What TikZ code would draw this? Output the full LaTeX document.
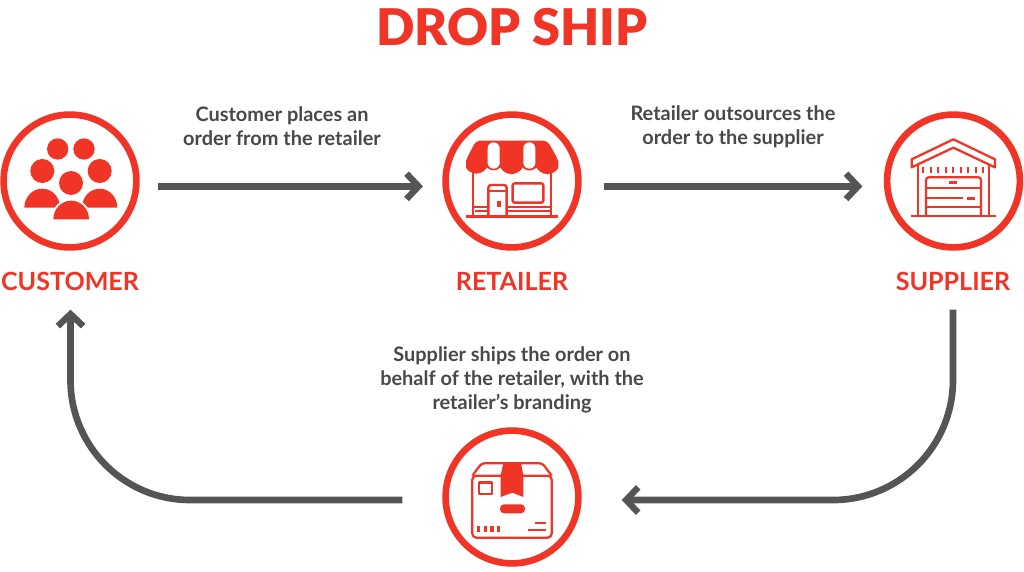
\documentclass[tikz,border=0pt]{standalone}
\usepackage{fontspec}
\setmainfont{Lato}
\newfontfamily\heavyfont{Lato Black}
\usetikzlibrary{arrows.meta}
\definecolor{dsred}{HTML}{F03526}
\definecolor{dsgray}{HTML}{555555}
\tikzset{
  ring/.style={circle,draw=dsred,line width=5pt,minimum size=99.6pt,inner sep=0pt,fill=white},
  title/.style={text=dsred,font=\heavyfont\fontsize{37.9}{44}\selectfont,inner sep=0pt},
  label/.style={text=dsred,font=\bfseries\fontsize{18.8}{22}\selectfont,inner sep=0pt},
  note/.style={text=dsgray!85!black,font=\bfseries\fontsize{14.95}{18}\selectfont,align=center,inner sep=0pt},
  flow/.style={draw=dsgray,line width=5pt,-{Straight Barb[length=9pt,width=19pt,line width=4.8pt]}},
  ic/.style={draw=dsred,line width=1.5pt,line join=round},
  icon/.style={x=.25pt,y=-.25pt}
}
\begin{document}
\begin{tikzpicture}[x=.75pt,y=-.75pt]
\useasboundingbox (0,0) rectangle (1024,571);
\node[title] (head) at (512,27) {DROP SHIP};
\node[ring] (customer) at (70,181) {};
\node[ring] (retailer) at (512,181) {};
\node[ring] (supplier) at (953.5,181) {};
\node[ring] (parcel) at (512,497) {};
\node[label] (lcustomer) at (70,281.5) {CUSTOMER};
\node[label] (lretailer) at (512,281.5) {RETAILER};
\node[label] (lsupplier) at (953,281.5) {SUPPLIER};
\node[note] (n1) at (282,126.5) {Customer places an\\order from the retailer};
\node[note] (n2) at (733,126.5) {Retailer outsources the\\order to the supplier};
\node[note] (n3) at (512,379.5) {Supplier ships the order on\\behalf of the retailer, with the\\retailer’s branding};
% connectors
\draw[flow,shorten <=13.5pt,shorten >=14.5pt] ([yshift=-4pt]customer.east) -- ([yshift=-4pt]retailer.west);
\draw[flow,shorten <=16.5pt,shorten >=16pt] ([yshift=-4pt]retailer.east) -- ([yshift=-4pt]supplier.west);
\draw[flow,shorten >=30pt] ([yshift=-14pt]lsupplier.south) -- (953,380) arc[start angle=0,end angle=90,x radius=120,y radius=120] -- ([yshift=-2.25pt]parcel.east);
\draw[flow,shorten <=30pt] ([yshift=-2.25pt]parcel.west) -- (190,500) arc[start angle=90,end angle=180,x radius=119.5,y radius=120] -- ([xshift=.4pt,yshift=-14pt]lcustomer.south);
% customer icon
\begin{scope}[shift={(0,100)},icon]
\foreach \x/\y/\r in {173/147/32,252/147/32,127/213/36,299/213/36,213/249/36}
  \fill[dsred] (\x,\y) circle[radius=\r];
\fill[dsred] (73,323) arc[start angle=180,end angle=360,x radius=53.5,y radius=57] -- cycle;
\fill[dsred] (246,323) arc[start angle=180,end angle=360,x radius=53,y radius=57] -- cycle;
\fill[dsred,draw=white,line width=3pt] (160,358) arc[start angle=180,end angle=360,x radius=53.5,y radius=56] -- cycle;
\fill[dsred] (160,358) arc[start angle=180,end angle=360,x radius=53.5,y radius=56] -- cycle;
\end{scope}
% retailer icon
\begin{scope}[shift={(435,100)},icon]
\draw[ic] (115,215) -- (115,345);
\draw[ic] (347,215) -- (347,345);
\draw[ic] (115,322) -- (160,322) (215,322) -- (347,322);
\draw[ic] (120,334) -- (160,334) (215,334) -- (347,334);
\draw[ic,line width=2.4pt] (92,350) -- (370,350);
\draw[ic,line width=1.8pt,rounded corners=2pt] (160,345) -- (160,255) -- (215,255) -- (215,345);
\draw[ic] (160,272) -- (215,272);
\fill[dsred] (187,302) rectangle (199,322);
\draw[ic,line width=1.8pt,rounded corners=1.5pt] (233,250) rectangle (325,308);
% awning: bottom edge runs right to left through five scallops
\fill[dsred,rounded corners=3pt] (93,190) -- (93,180) -- (123,122) -- (337,122) -- (370,180) -- (370,190)
  arc[start angle=0,end angle=180,radius=32.5] arc[start angle=0,end angle=180,radius=21.5]
  arc[start angle=0,end angle=180,radius=32.5] arc[start angle=0,end angle=180,radius=21]
  arc[start angle=0,end angle=180,radius=31] -- cycle;
\fill[white] (158,190) -- (158,145) arc[start angle=180,end angle=360,radius=18] -- (194,190) -- cycle;
\fill[white] (265,190) -- (265,145) arc[start angle=180,end angle=360,radius=18] -- (301,190) -- cycle;
\fill[white] (158,188) arc[start angle=180,end angle=0,radius=18] -- cycle;
\fill[white] (265,188) arc[start angle=180,end angle=0,radius=18] -- cycle;
\end{scope}
% supplier icon
\begin{scope}[shift={(875,100)},icon]
\draw[ic,line width=1.7pt] (235,118) -- (360,178) -- (360,202) -- (235,143) -- (110,202) -- (110,178) -- cycle;
\draw[ic,line width=1.7pt] (128,196) -- (128,345) (342,196) -- (342,345);
\draw[ic,line width=1.7pt] (108,347) -- (362,347);
\draw[ic,line width=1.7pt,rounded corners=2pt] (153,345) -- (153,232) -- (318,232) -- (318,345);
\draw[ic] (157,265) -- (315,265) (157,322) -- (315,322) (157,295) -- (265,295);
\draw[ic,line width=1.9pt] (277,295) -- (300,295) (222,248) -- (245,248);
\foreach \x in {145,167,189,212,235,257,279,302,325}
  \draw[ic,line width=1.7pt] (\x,202) -- (\x,218);
\end{scope}
% parcel icon
\begin{scope}[shift={(435,425)},icon]
\draw[ic,line width=1.7pt,rounded corners=3pt] (112,152) rectangle (350,338);
\draw[ic,line width=1.7pt,rounded corners=2pt] (112,152) -- (140,115) -- (322,115) -- (350,152);
\fill[dsred] (205,115) -- (258,115) -- (265,150) -- (265,216) -- (232,203) -- (197,216) -- (197,150) -- cycle;
\draw[ic,line width=1.8pt] (132,173) rectangle (171,207);
\fill[dsred,rounded corners=3pt] (195,238) rectangle (270,265);
\foreach \x in {125,146,166,185} \fill[dsred] (\x,303) rectangle +(10,19);
\draw[ic] (300,295) -- (333,295) (278,316) -- (333,316);
\end{scope}
\end{tikzpicture}
\end{document}
